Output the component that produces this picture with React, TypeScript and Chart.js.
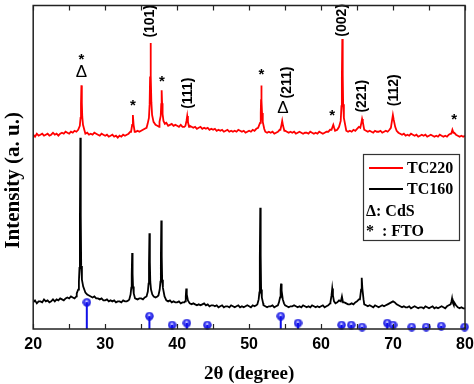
import React, { useEffect, useRef } from 'react';
import { Chart, registerables } from 'chart.js';

Chart.register(...registerables);

// ---- axis range ----
const X_MIN = 20;
const X_MAX = 80;
const Y_MIN = 0;
const Y_MAX = 328;

// ---- baseline samples (2θ = 20 + i*0.25) ----
const BASE_START = 20;
const BASE_STEP = 0.25;

const tc160Baseline = [
  27, 29, 26, 28, 28, 27, 30, 28, 29, 27, 28, 30, 28, 30, 29, 31,
  30, 29, 31, 32, 31, 33, 32, 31, 33, 35, 36, 36, 36, 37, 35, 34,
  33, 32, 33, 31, 31, 30, 31, 29, 29, 30, 28, 29, 28, 29, 27, 28,
  28, 27, 29, 28, 28, 29, 30, 31, 30, 31, 30, 31, 31, 30, 32, 31,
  33, 34, 35, 33, 32, 33, 34, 35, 32, 30, 29, 28, 29, 27, 28, 27,
  27, 28, 26, 27, 27, 28, 27, 26, 25, 26, 25, 24, 25, 24, 25, 26,
  24, 25, 23, 24, 24, 23, 24, 22, 23, 24, 22, 23, 23, 22, 24, 23,
  22, 23, 24, 22, 23, 22, 23, 24, 23, 22, 24, 23, 24, 25, 26, 25,
  24, 23, 22, 23, 23, 24, 22, 23, 24, 25, 26, 25, 24, 23, 22, 23,
  23, 24, 23, 22, 23, 22, 24, 23, 22, 23, 22, 24, 23, 22, 23, 22,
  23, 24, 22, 23, 24, 26, 27, 26, 26, 27, 29, 30, 28, 27, 26, 25,
  25, 26, 25, 27, 28, 30, 32, 28, 25, 24, 23, 24, 23, 22, 24, 23,
  22, 23, 24, 23, 24, 25, 26, 27, 28, 27, 25, 24, 23, 22, 23, 22,
  22, 23, 21, 22, 23, 22, 21, 22, 22, 21, 23, 22, 21, 22, 23, 21,
  22, 21, 22, 23, 22, 21, 23, 24, 26, 28, 27, 24, 22, 21, 22, 21,
  21,
];

const tc220Baseline = [
  197, 195, 198, 196, 197, 198, 196, 197, 198, 196, 197, 199, 197, 198, 196, 198,
  199, 198, 200, 199, 198, 200, 199, 201, 200, 202, 203, 205, 199, 198, 199, 197,
  198, 197, 199, 198, 197, 196, 198, 197, 196, 197, 195, 196, 197, 195, 196, 194,
  196, 195, 197, 196, 197, 198, 200, 203, 199, 200, 201, 200, 201, 202, 203, 204,
  205, 207, 206, 210, 207, 206, 205, 206, 208, 207, 209, 206, 207, 208, 206, 207,
  206, 205, 207, 205, 205, 206, 212, 206, 205, 204, 205, 203, 204, 205, 203, 204,
  203, 204, 202, 203, 202, 203, 201, 202, 201, 202, 200, 201, 202, 200, 201, 200,
  201, 200, 202, 201, 200, 201, 199, 200, 201, 200, 202, 201, 203, 204, 208, 205,
  201, 200, 199, 200, 199, 200, 198, 199, 200, 202, 205, 204, 201, 200, 199, 200,
  199, 200, 198, 199, 200, 199, 198, 199, 199, 198, 200, 199, 198, 199, 198, 200,
  199, 198, 199, 200, 200, 202, 204, 203, 201, 202, 205, 210, 208, 203, 201, 200,
  201, 200, 202, 201, 203, 205, 210, 206, 202, 201, 200, 201, 200, 199, 201, 200,
  200, 201, 199, 200, 201, 200, 202, 204, 210, 205, 201, 199, 198, 197, 198, 196,
  197, 196, 198, 197, 196, 197, 195, 196, 197, 196, 197, 195, 196, 197, 196, 195,
  196, 195, 197, 196, 195, 196, 195, 197, 198, 200, 199, 197, 196, 195, 196, 195,
  196,
];

// ---- peak profiles: [2θ, intensity] ----
const tc160Peaks: [number, number][][] = [
  [[26.05, 36], [26.25, 40], [26.35, 48], [26.43, 62], [26.49, 112], [26.55, 194], [26.61, 115], [26.67, 64], [26.77, 50], [26.95, 43], [27.15, 39]],
  [[33.35, 30], [33.53, 35], [33.63, 42], [33.69, 55], [33.75, 77], [33.81, 56], [33.87, 43], [33.97, 36], [34.15, 31]],
  [[35.75, 33], [35.93, 38], [36.03, 46], [36.09, 66], [36.15, 97], [36.21, 68], [36.27, 48], [36.37, 40], [36.55, 35]],
  [[37.4, 34], [37.58, 40], [37.68, 48], [37.74, 72], [37.8, 110], [37.86, 74], [37.92, 50], [38.02, 42], [38.25, 33]],
  [[41.1, 28], [41.2, 33], [41.27, 41], [41.34, 35], [41.5, 29]],
  [[51.15, 25], [51.33, 30], [51.43, 37], [51.49, 72], [51.55, 123], [51.61, 75], [51.67, 40], [51.77, 32], [51.95, 26]],
  [[54.15, 27], [54.3, 32], [54.38, 40], [54.44, 46], [54.52, 39], [54.68, 30], [54.85, 26]],
  [[61.3, 27], [61.45, 34], [61.55, 41], [61.65, 34], [61.8, 28]],
  [[62.75, 28], [62.9, 33], [63.05, 27]],
  [[65.4, 30], [65.56, 40], [65.65, 52], [65.74, 41], [65.9, 30]],
  [[78.0, 25], [78.12, 28], [78.2, 31], [78.28, 27], [78.45, 24]],
];

const tc220Peaks: [number, number][][] = [
  [[26.3, 202], [26.48, 206], [26.58, 214], [26.64, 228], [26.7, 247], [26.76, 229], [26.82, 215], [26.92, 207], [27.1, 202]],
  [[33.6, 200], [33.75, 207], [33.85, 217], [33.95, 207], [34.1, 200]],
  [[35.9, 208], [36.08, 214], [36.18, 228], [36.24, 255], [36.3, 290], [36.36, 257], [36.42, 230], [36.52, 217], [36.72, 210]],
  [[37.55, 210], [37.72, 216], [37.79, 228], [37.85, 242], [37.91, 229], [37.98, 218], [38.1, 211], [38.3, 208]],
  [[41.15, 206], [41.3, 211], [41.4, 216], [41.5, 210], [41.65, 205]],
  [[51.35, 204], [51.52, 209], [51.62, 219], [51.66, 232], [51.7, 247], [51.74, 232], [51.8, 219], [51.9, 210], [52.1, 203]],
  [[54.35, 202], [54.5, 207], [54.6, 211], [54.72, 206], [54.9, 201]],
  [[61.45, 202], [61.6, 205], [61.7, 207], [61.82, 204], [61.95, 201]],
  [[62.55, 205], [62.73, 211], [62.83, 226], [62.89, 255], [62.95, 294], [63.01, 258], [63.07, 228], [63.17, 214], [63.35, 207]],
  [[65.45, 204], [65.6, 209], [65.7, 213], [65.8, 210], [65.95, 204]],
  [[69.7, 204], [69.85, 211], [69.98, 217], [70.1, 212], [70.3, 205]],
  [[78.1, 198], [78.25, 202], [78.4, 199]],
];

// ---- CdS reference pattern ----
const cdsPositions = [27.45, 36.15, 39.3, 41.35, 44.2, 54.4, 56.8, 62.85, 64.2, 65.7, 69.2, 70.0, 72.6, 74.6, 76.7, 79.95];
const cdsIntensities = [27, 13, 4, 6, 4, 13, 6, 4, 4, 2, 6, 4, 2, 2, 3, 2];

// ---- annotations ----
const starX = [26.7, 33.85, 37.9, 51.7, 61.55, 78.5];
const starY = [272, 226, 250, 257, 215, 211];
const deltaX = [26.7, 54.7];
const deltaY = [259, 222];
const hklText = ['(101)', '(111)', '(211)', '(002)', '(221)', '(112)'];
const hklX = [36.25, 41.5, 55.3, 62.9, 65.7, 70.1];
const hklY = [312, 239, 250, 313, 236, 242];

const seriesLabels = ['TC220', 'TC160'];
const seriesColors = ['#ff0000', '#000000'];
const legendNotes = ['Δ: CdS', '*  : FTO'];
const stickColor = '#1010e8';

function buildSeries(base: number[], peaks: [number, number][][]) {
  const spans = peaks.map((p) => [p[0][0], p[p.length - 1][0]]);
  const pts: { x: number; y: number }[] = [];
  base.forEach((v, i) => {
    const x = BASE_START + i * BASE_STEP;
    if (!spans.some(([a, b]) => x >= a - 1e-9 && x <= b + 1e-9)) pts.push({ x, y: v });
  });
  peaks.forEach((p) => p.forEach(([x, y]) => pts.push({ x, y })));
  pts.sort((a, b) => a.x - b.x);
  return pts;
}

function makeMarker(): HTMLCanvasElement {
  const c = document.createElement('canvas');
  c.width = 9;
  c.height = 9;
  const g = c.getContext('2d')!;
  const grad = g.createRadialGradient(4.2, 3.2, 0.2, 4.5, 4.5, 4.5);
  grad.addColorStop(0, '#ffffff');
  grad.addColorStop(0.3, '#5a5aff');
  grad.addColorStop(1, '#0808d0');
  g.fillStyle = grad;
  g.beginPath();
  g.arc(4.5, 4.5, 4.2, 0, Math.PI * 2);
  g.fill();
  return c;
}

const framePlugin = {
  id: 'frame',
  afterDraw(chart: any) {
    const { ctx, chartArea } = chart;
    const { left, right, top, bottom } = chartArea;
    const xs = chart.scales.x;
    ctx.save();
    ctx.strokeStyle = '#222';
    ctx.lineWidth = 1.5;
    ctx.strokeRect(left, top, right - left, bottom - top);
    ctx.lineWidth = 1.2;
    xs.ticks.forEach((t: any) => {
      const px = Math.round(xs.getPixelForValue(t.value)) + 0.5;
      ctx.beginPath();
      ctx.moveTo(px, bottom);
      ctx.lineTo(px, bottom - 5);
      ctx.moveTo(px, top);
      ctx.lineTo(px, top + 5);
      ctx.stroke();
    });
    ctx.restore();
  },
};

const annotationPlugin = {
  id: 'xrdAnnotations',
  afterDatasetsDraw(chart: any) {
    const { ctx } = chart;
    const xs = chart.scales.x;
    const ys = chart.scales.y;
    ctx.save();
    ctx.fillStyle = '#000';
    ctx.textAlign = 'center';
    ctx.textBaseline = 'alphabetic';
    ctx.font = "bold 15px 'Liberation Sans'";
    starX.forEach((x, i) => {
      ctx.fillText('*', xs.getPixelForValue(x), ys.getPixelForValue(starY[i]) + 3.5);
    });
    ctx.font = "17px 'Liberation Sans'";
    deltaX.forEach((x, i) => {
      ctx.fillText('Δ', xs.getPixelForValue(x), ys.getPixelForValue(deltaY[i]) + 3);
    });
    ctx.font = "bold 14px 'Liberation Sans'";
    ctx.textBaseline = 'middle';
    hklText.forEach((s, i) => {
      ctx.save();
      ctx.translate(xs.getPixelForValue(hklX[i]), ys.getPixelForValue(hklY[i]));
      ctx.rotate(-Math.PI / 2);
      ctx.fillText(s, 0, 0);
      ctx.restore();
    });
    ctx.restore();
  },
};

const legendPlugin = {
  id: 'boxLegend',
  afterDraw(chart: any) {
    const { ctx } = chart;
    const bx = 363.5, by = 154.5, bw = 96, bh = 86;
    ctx.save();
    ctx.fillStyle = '#fff';
    ctx.fillRect(bx, by, bw, bh);
    ctx.strokeStyle = '#333';
    ctx.lineWidth = 1.2;
    ctx.strokeRect(bx, by, bw, bh);
    ctx.font = "bold 16px 'Liberation Serif'";
    ctx.textBaseline = 'middle';
    ctx.textAlign = 'left';
    const rows = [168, 189];
    chart.data.datasets.slice(0, 2).forEach((ds: any, i: number) => {
      ctx.strokeStyle = ds.borderColor;
      ctx.lineWidth = 2;
      ctx.beginPath();
      ctx.moveTo(369, rows[i]);
      ctx.lineTo(403, rows[i]);
      ctx.stroke();
      ctx.fillStyle = '#000';
      ctx.fillText(ds.label, 407, rows[i] + 1);
    });
    ctx.fillStyle = '#000';
    ctx.fillText(legendNotes[0], 366, 212);
    ctx.fillText(legendNotes[1], 366, 232);
    ctx.restore();
  },
};

export default function App() {
  const ref = useRef<HTMLCanvasElement>(null);
  useEffect(() => {
    if (!ref.current) return;
    const stems: any[] = [];
    cdsPositions.forEach((p, i) => {
      stems.push({ x: p, y: 0 }, { x: p, y: cdsIntensities[i] }, { x: p, y: null });
    });
    const marker = makeMarker();
    const chart = new Chart(ref.current, {
      type: 'line',
      data: {
        datasets: [
          {
            label: seriesLabels[0],
            data: buildSeries(tc220Baseline, tc220Peaks),
            borderColor: seriesColors[0],
            borderWidth: 1.8,
            pointRadius: 0,
            tension: 0,
          },
          {
            label: seriesLabels[1],
            data: buildSeries(tc160Baseline, tc160Peaks),
            borderColor: seriesColors[1],
            borderWidth: 1.8,
            pointRadius: 0,
            tension: 0,
          },
          {
            label: 'CdS stems',
            data: stems,
            borderColor: stickColor,
            borderWidth: 2,
            pointRadius: 0,
            spanGaps: false,
          },
          {
            label: 'CdS',
            data: cdsPositions.map((p, i) => ({ x: p, y: cdsIntensities[i] })),
            showLine: false,
            pointStyle: marker as any,
            pointRadius: 4.5,
            clip: false as any,
          },
        ] as any,
      },
      options: {
        responsive: false,
        animation: false,
        devicePixelRatio: 1,
        layout: { padding: { top: 1, left: 1, right: 0, bottom: -1 } },
        plugins: {
          legend: { display: false },
          tooltip: { enabled: false },
        },
        scales: {
          x: {
            type: 'linear',
            min: X_MIN,
            max: X_MAX,
            border: { display: false },
            grid: { display: false, drawTicks: false },
            afterFit: (s: any) => {
              s.paddingRight = 9;
            },
            ticks: {
              stepSize: 5,
              autoSkip: false,
              maxRotation: 0,
              padding: 6,
              color: '#000',
              font: { family: "'Liberation Sans'", size: 16, weight: 'bold' },
              callback: (v: any) => (Number(v) % 10 === 0 ? String(v) : ''),
            },
            title: {
              display: true,
              text: '2θ (degree)',
              color: '#000',
              font: { family: "'Liberation Serif'", size: 19, weight: 'bold' },
              padding: { top: 2, bottom: 0 },
            },
          },
          y: {
            min: Y_MIN,
            max: Y_MAX,
            border: { display: false },
            grid: { display: false, drawTicks: false },
            ticks: { display: false },
            title: {
              display: true,
              text: 'Intensity (a. u.)\u00A0\u00A0\u00A0\u00A0\u00A0',
              color: '#000',
              font: { family: "'Liberation Serif'", size: 21, weight: 'bold' },
              padding: { top: 0, bottom: 7 },
            },
          },
        },
      } as any,
      plugins: [framePlugin, annotationPlugin, legendPlugin],
    });
    return () => chart.destroy();
  }, []);
  return (
    <div style={{ position: 'fixed', left: 0, top: 0, width: 474, height: 384, background: '#fff' }}>
      <canvas ref={ref} width={474} height={384} style={{ display: 'block' }} />
    </div>
  );
}
